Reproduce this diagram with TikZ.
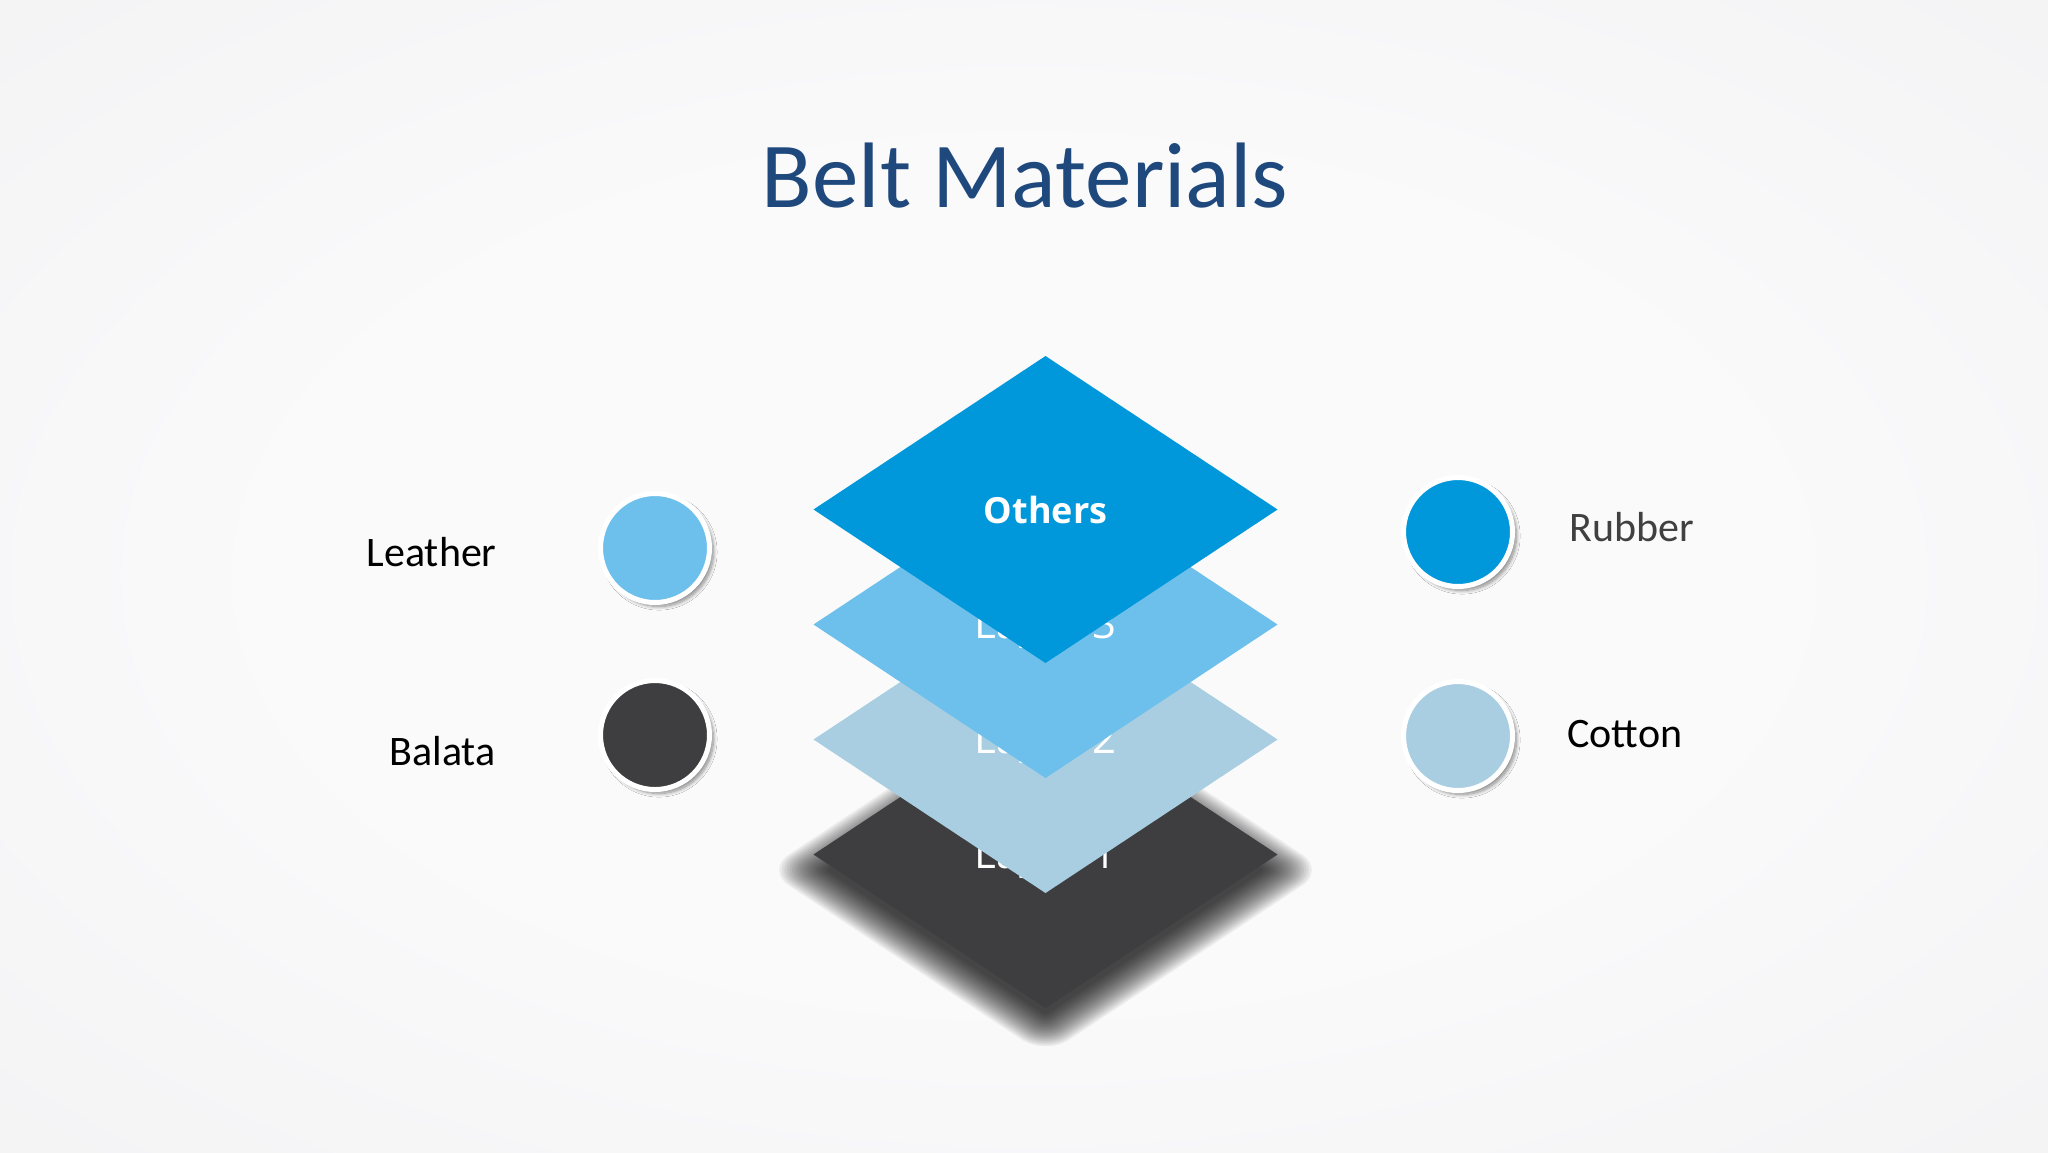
\documentclass[tikz,border=0pt]{standalone}
\usepackage{fontspec}
\setmainfont{Carlito}
\newfontfamily\osans{Open Sans}
\usetikzlibrary{shadows.blur}
\definecolor{bgin}{RGB}{250,250,251}
\definecolor{bgout}{RGB}{230,230,232}
\definecolor{titleblue}{RGB}{31,73,125}
\definecolor{cTop}{RGB}{0,152,218}
\definecolor{cThree}{RGB}{109,192,236}
\definecolor{cTwo}{RGB}{169,206,226}
\definecolor{cOne}{RGB}{62,62,64}
\definecolor{labgrey}{RGB}{64,64,64}
\pgfdeclareradialshading{bgshade}{\pgfpoint{0bp}{0bp}}{color(0bp)=(bgin); color(18bp)=(bgin); color(72bp)=(bgout)}
\tikzset{
  layerlab/.style={text=white, font=\osans\fontsize{21}{25}\selectfont, inner sep=0pt, anchor=base},
  toplab/.style={text=white, font=\osans\bfseries\fontsize{18}{22}\selectfont, inner sep=0pt, anchor=base},
  sidelab/.style={font=\fontsize{21}{25}\selectfont, inner sep=0pt},
  dot/.style={circle, draw=white, line width=2.5pt, minimum size=54.5pt, inner sep=0pt,
    blur shadow={shadow xshift=2pt, shadow yshift=-2pt, shadow blur radius=1.8pt, shadow blur steps=10, shadow opacity=45}},
}
\newcommand{\diam}[1]{(1045.5-232,#1) -- (1045.5,#1-153.5) -- (1045.5+232,#1) -- (1045.5,#1+153.5) -- cycle}
\begin{document}
\begin{tikzpicture}[x=0.5pt,y=-0.5pt]
\useasboundingbox (0,0) rectangle (2048,1152);
\shade[shading=bgshade] (0,0) rectangle (2048,1152);

% title
\node[text=titleblue, font=\fontsize{46.5}{52}\selectfont, anchor=base, inner sep=0pt] (title) at (1025,207) {Belt Materials};

% soft shadow under the bottom layer
\foreach \i in {0,...,19}{
  \pgfmathsetmacro{\w}{280-3.2*\i}
  \pgfmathsetmacro{\h}{\w*0.6616}
  \pgfmathsetmacro{\r}{14-0.65*\i}
  \fill[black, opacity=0.06, rounded corners=\r pt] (1045.5-\w,870) -- (1045.5,870-\h) -- (1045.5+\w,870) -- (1045.5,870+\h) -- cycle;
}

% layer stack
\fill[cOne] \diam{854.5};
\node[layerlab] (l1) at (1045.5,868.5) {Layer 1};
\fill[cTwo] \diam{739.5};
\node[layerlab] (l2) at (1045.5,753.5) {Layer 2};
\fill[cThree] \diam{624.5};
\node[layerlab] (l3) at (1045.5,638.5) {Layer 3};
\fill[cTop] \diam{509.5};
\node[toplab] (others) at (1045.5,523) {Others};

% circles
\node[dot, fill=cThree] (leatherdot) at (655,548) {};
\node[dot, fill=cOne] (balatadot) at (655,735) {};
\node[dot, fill=cTop] (rubberdot) at (1458,532) {};
\node[dot, fill=cTwo] (cottondot) at (1458,736) {};

% labels
\node[sidelab, anchor=base east, text=black] (leather) at (497,566) {Leather};
\node[sidelab, anchor=base east, text=black] (balata) at (496,765) {Balata};
\node[sidelab, anchor=base west, text=labgrey] (rubber) at (1569,541.7) {Rubber};
\node[sidelab, anchor=base west, text=black] (cotton) at (1567,747) {Cotton};
\end{tikzpicture}
\end{document}
